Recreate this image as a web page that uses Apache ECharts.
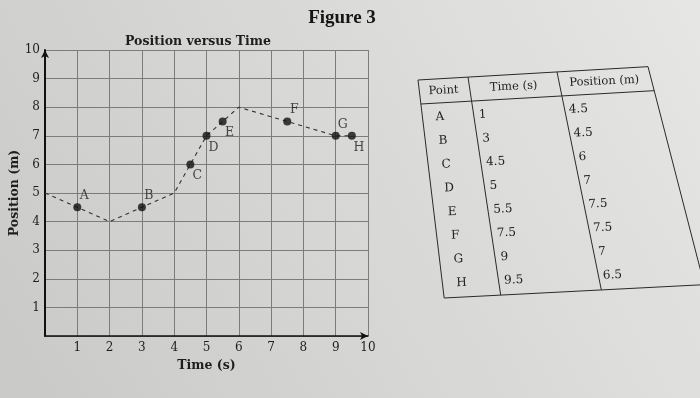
<!DOCTYPE html>
<html>
<head>
<meta charset="utf-8">
<script src="https://cdn.jsdelivr.net/npm/echarts@6/dist/echarts.min.js"></script>
<style>
  html, body { margin: 0; padding: 0; }
  #main { width: 700px; height: 398px; }
</style>
</head>
<body>
<div id="main"></div>
<script>
// points A..H as plotted
var pointNames = ['A', 'B', 'C', 'D', 'E', 'F', 'G', 'H'];
var pointTimes = [1, 3, 4.5, 5, 5.5, 7.5, 9, 9.5];
var pointPositions = [4.5, 4.5, 6, 7, 7.5, 7.5, 7, 7];
var labelSides = ['top', 'top', 'bottom', 'bottom', 'bottom', 'top', 'top', 'bottom'];

// dashed path through the points (with the corner vertices)
var pathTimes = [0, 1, 2, 3, 4, 4.5, 5, 5.5, 6, 7.5, 9, 9.5];
var pathPositions = [5, 4.5, 4, 4.5, 5, 6, 7, 7.5, 8, 7.5, 7, 7];

// table text
var tableHeaders = ['Point', 'Time (s)', 'Position (m)'];
var tableTimes = ['1', '3', '4.5', '5', '5.5', '7.5', '9', '9.5'];
var tablePositions = ['4.5', '4.5', '6', '7', '7.5', '7.5', '7', '6.5'];

var xTicks = ['', '1', '2', '3', '4', '5', '6', '7', '8', '9', '10'];
var yTicks = ['', '1', '2', '3', '4', '5', '6', '7', '8', '9', '10'];

var serif = '"DejaVu Serif", serif';
var ink = '#1e1e1e';

function zip(xs, ys) {
    return xs.map(function (x, i) { return [x, ys[i]]; });
}

// the table sits on a tilted page in the photo, so map (u, v) to the screen
function proj(u, v) {
    return [418 + u + v * (0.12 + 0.0006 * u), 80 + v - u * 0.058];
}
function seg(u1, v1, u2, v2) {
    var a = proj(u1, v1), b = proj(u2, v2);
    return { type: 'line', shape: { x1: a[0], y1: a[1], x2: b[0], y2: b[1] },
        style: { stroke: '#2a2a2a', lineWidth: 1 } };
}
function txt(s, u, v, align, size) {
    var p = proj(u, v);
    return { type: 'text', x: p[0], y: p[1], rotation: 0.045,
        style: { text: s, x: 0, y: 0, font: (size || 12) + 'px ' + serif, fill: ink,
            textAlign: align, textVerticalAlign: 'middle', align: align, verticalAlign: 'middle' } };
}

var colU = [0, 50, 139, 230];
var headH = 24, rowH = 23.7, tableBottom = 218;
var tableEls = [];
tableEls.push(seg(0, 0, colU[3], 0));
tableEls.push(seg(0, headH, colU[3], headH));
tableEls.push(seg(0, tableBottom, 320, tableBottom));
colU.forEach(function (u) { tableEls.push(seg(u, 0, u, tableBottom)); });
tableHeaders.forEach(function (h, i) {
    tableEls.push(txt(h, (colU[i] + colU[i + 1]) / 2 - 1, 12, 'center', 11.5));
});
pointNames.forEach(function (n, i) {
    var v = headH + 14 + rowH * i;
    tableEls.push(txt(n, 17, v, 'center'));
    tableEls.push(txt(tableTimes[i], 55, v, 'left'));
    tableEls.push(txt(tablePositions[i], 143, v, 'left'));
});

var option = {
    backgroundColor: new echarts.graphic.LinearGradient(1, 0, 0, 1, [
        { offset: 0, color: '#e6e6e4' },
        { offset: 1, color: '#c9c9c7' }
    ]),
    animation: false,
    title: [{
        text: 'Figure 3',
        left: 337, top: 4, textAlign: 'center',
        textStyle: { fontFamily: '"Liberation Serif", serif', fontSize: 19, fontWeight: 'bold', color: '#151515' }
    }, {
        text: 'Position versus Time',
        left: 193, top: 30, textAlign: 'center',
        textStyle: { fontFamily: serif, fontSize: 12.5, fontWeight: 'bold', color: ink }
    }],
    grid: { left: 45, right: 332, top: 50, bottom: 62 },
    xAxis: {
        type: 'value', min: 0, max: 10, interval: 1,
        name: 'Time (s)', nameLocation: 'middle', nameGap: 22,
        nameTextStyle: { fontFamily: serif, fontSize: 12.5, fontWeight: 'bold', color: ink },
        axisLine: { lineStyle: { color: '#111', width: 1.5 }, symbol: ['none', 'arrow'], symbolSize: [6, 8] },
        axisTick: { show: false },
        axisLabel: { fontFamily: serif, fontSize: 12, color: ink, margin: 6,
            formatter: function (v) { return xTicks[v] || ''; } },
        splitLine: { lineStyle: { color: '#7c7c7c', width: 1 } }
    },
    yAxis: {
        type: 'value', min: 0, max: 10, interval: 1,
        name: 'Position (m)', nameLocation: 'middle', nameGap: 24, nameRotate: 90,
        nameTextStyle: { fontFamily: serif, fontSize: 12.5, fontWeight: 'bold', color: ink },
        axisLine: { show: true, lineStyle: { color: '#111', width: 2 }, symbol: ['none', 'arrow'], symbolSize: [6, 8] },
        axisTick: { show: false },
        axisLabel: { fontFamily: serif, fontSize: 12, color: ink, margin: 5,
            formatter: function (v) { return yTicks[v] || ''; } },
        splitLine: { lineStyle: { color: '#7c7c7c', width: 1 } }
    },
    series: [{
        type: 'line',
        data: zip(pathTimes, pathPositions),
        symbol: 'none',
        lineStyle: { color: '#333', width: 1.1, type: [4, 4] },
        z: 2
    }, {
        type: 'scatter',
        data: pointNames.map(function (n, i) {
            return { value: [pointTimes[i], pointPositions[i]], name: n,
                label: { position: labelSides[i] } };
        }),
        symbolSize: 8,
        itemStyle: { color: '#111' },
        label: {
            show: true, formatter: '{b}', distance: 1, offset: [7, 0],
            fontFamily: serif, fontSize: 12.5, color: ink
        },
        z: 3
    }],
    graphic: tableEls
};

var chart = echarts.init(document.getElementById('main'));
chart.setOption(option, true);
</script>
</body>
</html>
